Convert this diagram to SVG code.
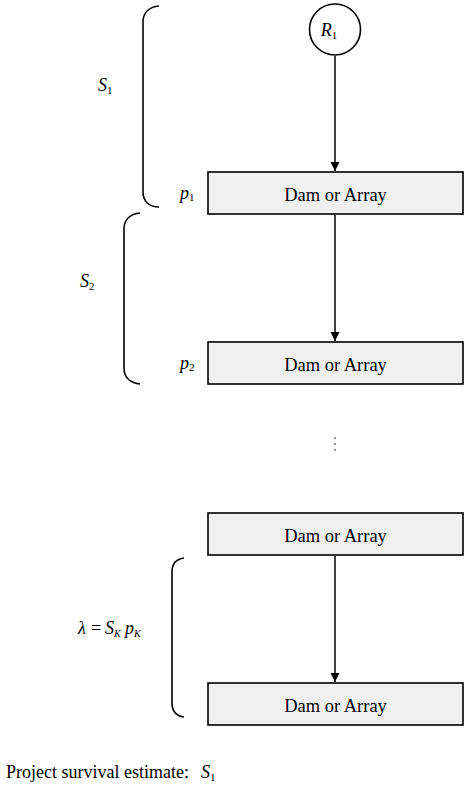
<svg xmlns="http://www.w3.org/2000/svg" width="474" height="792" viewBox="0 0 474 792">
<style>
  text { font-family: 'Liberation Serif', 'DejaVu Serif', serif; fill: #000; }
  .box { fill: #f0f0f0; stroke: #000; stroke-width: 1.6; }
  .lbl { font-size: 18.5px; text-anchor: middle; }
  .it { font-style: italic; font-size: 18px; }
  .sub { font-size: 11px; font-style: normal; }
  .subi { font-size: 10px; font-style: italic; }
  .brace { fill: none; stroke: #000; stroke-width: 1.6; }
  .conn { stroke: #000; stroke-width: 1.5; fill: none; }
</style>
<defs>
  <marker id="ah" markerWidth="10" markerHeight="10" refX="9" refY="5" orient="auto" markerUnits="userSpaceOnUse">
    <path d="M0,0.5 L9,5 L0,9.5 Z" fill="#000"/>
  </marker>
</defs>
<rect width="474" height="792" fill="#fff"/>

<g id="R1">
  <circle cx="335" cy="29.5" r="25.5" fill="#fff" stroke="#000" stroke-width="1.6"/>
  <text x="329" y="36" class="it" text-anchor="middle">R<tspan class="sub" dy="3">1</tspan></text>
</g>

<g id="box1">
  <rect x="208" y="172" width="255" height="42" class="box"/>
  <text x="335.5" y="200.5" class="lbl">Dam or Array</text>
</g>
<g id="box2">
  <rect x="208" y="342" width="255" height="42" class="box"/>
  <text x="335.5" y="370.5" class="lbl">Dam or Array</text>
</g>
<g id="box3">
  <rect x="208" y="513" width="255" height="42" class="box"/>
  <text x="335.5" y="541.5" class="lbl">Dam or Array</text>
</g>
<g id="box4">
  <rect x="208" y="683" width="255" height="42" class="box"/>
  <text x="335.5" y="711.5" class="lbl">Dam or Array</text>
</g>

<g id="connectors">
  <line x1="335" y1="56" x2="335" y2="171" class="conn" marker-end="url(#ah)"/>
  <line x1="335" y1="215" x2="335" y2="341" class="conn" marker-end="url(#ah)"/>
  <line x1="335" y1="556" x2="335" y2="682" class="conn" marker-end="url(#ah)"/>
</g>

<g id="braces">
  <path class="brace" d="M159,6 C150,7 143,12 143,22 L143,192 C143,202 150,207 159,207"/>
  <path class="brace" d="M140,213 C131,214 124,219 124,229 L124,368 C124,378 131,383 140,384"/>
  <path class="brace" d="M184,558 C177,559 172,563 172,572 L172,703 C172,712 177,716 184,717"/>
</g>

<g id="labels">
  <text x="98" y="91" class="it">S<tspan class="sub" dy="3">1</tspan></text>
  <text x="180" y="199" class="it">p<tspan class="sub" dy="2">1</tspan></text>
  <text x="80" y="287" class="it">S<tspan class="sub" dy="3">2</tspan></text>
  <text x="180" y="369" class="it">p<tspan class="sub" dy="2">2</tspan></text>
  <text x="78" y="634" class="it">λ</text>
  <text x="91" y="634" font-size="18px">=</text>
  <text x="105" y="634" class="it">S<tspan class="subi" dy="3">K</tspan></text>
  <text x="125" y="634" class="it">p<tspan class="subi" dy="3">K</tspan></text>
  <text x="6" y="778" font-size="18px">Project survival estimate:</text>
  <text x="201" y="778" class="it">S<tspan class="sub" dy="3">1</tspan></text>
</g>

<g id="ellipsis">
  <circle cx="335" cy="438" r="0.8" fill="#000"/>
  <circle cx="335" cy="444" r="0.8" fill="#000"/>
  <circle cx="335" cy="450" r="0.8" fill="#000"/>
</g>
</svg>
